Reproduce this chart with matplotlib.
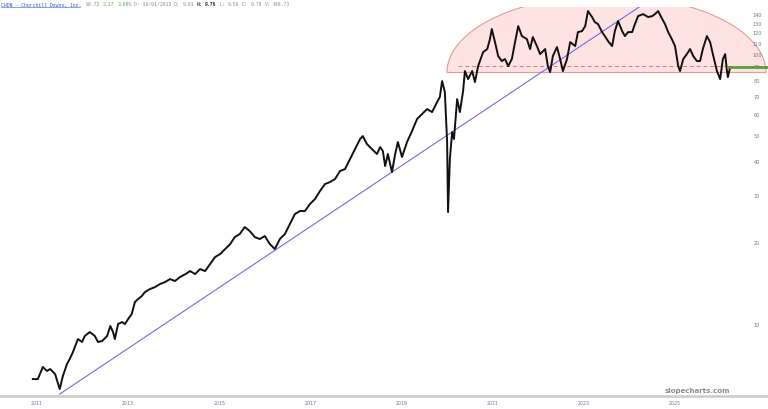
import numpy as np
import matplotlib
matplotlib.use("Agg")
from matplotlib import pyplot as plt
from matplotlib.patches import Polygon
from matplotlib.lines import Line2D
import matplotlib.transforms as mtransforms

# CHDN daily close (decimal year, price)
years = [
    2010.91, 2011.02, 2011.13, 2011.22, 2011.29, 2011.40, 2011.46, 2011.50, 2011.57, 2011.66,
    2011.72, 2011.79, 2011.90, 2011.99, 2012.05, 2012.16, 2012.27, 2012.34, 2012.43, 2012.54,
    2012.61, 2012.67, 2012.71, 2012.78, 2012.87, 2012.93, 2013.00, 2013.08, 2013.15, 2013.22,
    2013.30, 2013.37, 2013.48, 2013.59, 2013.70, 2013.81, 2013.92, 2014.03, 2014.14, 2014.26,
    2014.36, 2014.47, 2014.58, 2014.69, 2014.80, 2014.91, 2015.02, 2015.13, 2015.24, 2015.34,
    2015.45, 2015.56, 2015.67, 2015.78, 2015.89, 2016.00, 2016.11, 2016.22, 2016.33, 2016.44,
    2016.55, 2016.66, 2016.77, 2016.88, 2016.99, 2017.10, 2017.21, 2017.32, 2017.43, 2017.54,
    2017.65, 2017.76, 2017.87, 2017.98, 2018.09, 2018.15, 2018.24, 2018.35, 2018.46, 2018.53,
    2018.59, 2018.64, 2018.70, 2018.79, 2018.86, 2018.92, 2019.01, 2019.12, 2019.23, 2019.34,
    2019.45, 2019.56, 2019.67, 2019.78, 2019.84, 2019.89, 2019.95, 2020.00, 2020.02, 2020.06,
    2020.11, 2020.15, 2020.22, 2020.28, 2020.35, 2020.39, 2020.46, 2020.55, 2020.61, 2020.68,
    2020.79, 2020.88, 2020.94, 2020.98, 2021.05, 2021.12, 2021.20, 2021.27, 2021.34, 2021.42,
    2021.49, 2021.56, 2021.64, 2021.75, 2021.82, 2021.88, 2021.97, 2022.04, 2022.15, 2022.21,
    2022.26, 2022.32, 2022.41, 2022.48, 2022.54, 2022.63, 2022.70, 2022.81, 2022.87, 2022.96,
    2023.03, 2023.09, 2023.18, 2023.24, 2023.31, 2023.40, 2023.46, 2023.53, 2023.62, 2023.68,
    2023.75, 2023.84, 2023.90, 2023.97, 2024.06, 2024.12, 2024.19, 2024.30, 2024.41, 2024.50,
    2024.56, 2024.63, 2024.72, 2024.78, 2024.85, 2024.93, 2025.00, 2025.07, 2025.11, 2025.18,
    2025.26, 2025.33, 2025.40, 2025.48, 2025.55, 2025.61, 2025.70, 2025.77, 2025.83, 2025.92,
    2025.99, 2026.05, 2026.10, 2026.14, 2026.16, 2026.21,
]
close = [
    6.25, 6.25, 6.93, 6.70, 6.81, 6.52, 6.04, 5.74, 6.42, 7.11,
    7.42, 7.87, 8.80, 8.58, 9.03, 9.34, 9.03, 8.58, 8.65, 9.03,
    9.83, 9.34, 8.80, 10.00, 10.17, 10.00, 10.43, 10.89, 12.07, 12.38,
    12.70, 13.14, 13.48, 13.71, 14.07, 14.31, 14.68, 14.44, 14.94, 15.32,
    15.72, 15.32, 15.99, 15.72, 16.69, 17.72, 18.18, 18.97, 19.79, 21.01,
    21.56, 22.89, 22.12, 21.01, 20.66, 21.20, 19.79, 18.97, 20.66, 21.56,
    23.49, 25.58, 26.24, 26.24, 27.86, 29.07, 31.12, 33.04, 33.61, 34.48,
    36.92, 37.56, 40.90, 44.55, 48.52, 49.77, 46.49, 44.55, 42.69, 45.31,
    43.80, 38.53, 42.69, 36.60, 42.69, 47.29, 41.61, 47.29, 51.95, 57.55,
    60.05, 62.68, 61.09, 66.54, 69.44, 79.60, 72.46, 47.29, 26.01, 40.90,
    51.51, 48.52, 68.26, 61.09, 73.08, 86.68, 80.96, 86.68, 78.91, 90.45,
    101.9, 104.6, 113.9, 124.1, 111.0, 98.55, 94.43, 96.06, 90.45, 96.06,
    111.0, 127.3, 116.9, 113.9, 104.6, 115.9, 107.3, 100.2, 104.6, 90.45,
    85.94, 98.55, 106.4, 96.06, 86.68, 96.06, 111.0, 107.3, 120.9, 121.9,
    127.3, 144.7, 137.5, 131.7, 129.5, 120.9, 116.9, 112.0, 107.3, 121.9,
    132.9, 121.9, 116.9, 120.9, 120.9, 129.5, 138.6, 141.0, 137.5, 138.6,
    141.0, 144.7, 135.1, 129.5, 120.9, 113.9, 107.3, 90.45, 86.68, 96.06,
    100.2, 104.6, 98.55, 94.43, 94.43, 104.6, 116.9, 111.0, 100.2, 86.68,
    80.96, 96.06, 100.2, 86.68, 82.36, 89.70,
]

last_close = 89.72
dashed_level = 90.5
trend_years = [2011.50, 2024.70]
trend_prices = [5.50, 170.0]

x_ticks = [2011, 2013, 2015, 2017, 2019, 2021, 2023, 2025]
y_labels = [140, 130, 120, 110, 100, 90, 80, 70, 60, 50, 40, 30, 20, 10]

# header: (text, colour, weight), laid out left to right in a monospace font
header = [
    ("CHDN - Churchill Downs, Inc.", "#3355dd", "normal"),
    ("89.72", "#888888", "normal"),
    ("3.17", "#44aa44", "normal"),
    ("3.66%", "#44aa44", "normal"),
    ("D: 10/01/2012", "#888888", "normal"),
    ("O:", "#888888", "normal"),
    ("9.61", "#888888", "normal"),
    ("H:", "#444444", "bold"),
    ("9.76", "#222222", "bold"),
    ("L:", "#888888", "normal"),
    ("9.50", "#888888", "normal"),
    ("C:", "#888888", "normal"),
    ("9.70", "#888888", "normal"),
    ("V:", "#888888", "normal"),
    ("146.73", "#888888", "normal"),
]

W, H = 768, 410
fig = plt.figure(figsize=(W / 100, H / 100), dpi=100)
ax_top, ax_bot = 8, 397
ax = fig.add_axes([0, (H - ax_bot) / H, 1, (ax_bot - ax_top) / H])
ax.set_yscale("log")
ax.set_xlim(2010.19, 2027.04)
ax.set_ylim(5.41, 149.8)


def to_axes(px, py):
    return px / W, (ax_bot - py) / (ax_bot - ax_top)


# pink half-ellipse (drawn in screen space like the original annotation)
t = np.linspace(0, np.pi, 200)
ex, ey = to_axes(606.5 + 159.5 * np.cos(t), 73.5 - 77 * np.sin(t))
ell = Polygon(np.column_stack([ex, ey]), closed=True, transform=ax.transAxes,
              facecolor="#ffe3e3", edgecolor="#e39a9a", lw=0.8, zorder=1)
ax.add_patch(ell)

trans_x_axes = mtransforms.blended_transform_factory(ax.transAxes, ax.transData)
ax.plot([458 / W, 766 / W], [dashed_level, dashed_level], transform=trans_x_axes,
        color="#d97878", lw=0.7, ls=(0, (4, 3)), zorder=2)

ax.plot(trend_years, trend_prices, color="#6e6ee6", lw=0.8, zorder=2)
ax.plot(years, close, color="#111111", lw=1.4, zorder=3)

for v in y_labels:
    ax.text(757 / W, v, str(v), transform=trans_x_axes, ha="center", va="center",
            fontsize=3.6, color="#777777", zorder=2)

ax.plot([728 / W, 1.0], [last_close, last_close], transform=trans_x_axes,
        color="#5c9e3c", lw=2, zorder=5)

ax.set_xticks(x_ticks)
ax.set_xticklabels([str(y) for y in x_ticks], fontsize=3.4, color="#7272a8")
ax.tick_params(axis="x", length=0, pad=3)
ax.set_yticks([])
ax.yaxis.set_minor_locator(matplotlib.ticker.NullLocator())
for s in ["top", "left", "right"]:
    ax.spines[s].set_visible(False)
ax.spines["bottom"].set_color("#cfcfcf")
ax.spines["bottom"].set_linewidth(2)

ax.text(697 / W, to_axes(0, 391)[1], "slopecharts.com", transform=ax.transAxes,
        ha="center", va="center", fontsize=5, color="#8a8a8a", fontweight="bold")

# header line
fs = 3.4
char_w = 0.6 * fs * 100 / 72
col = 0
hy = 1 - 5 / H
for i, (txt, c, wt) in enumerate(header):
    fig.text((1 + col * char_w) / W, hy, txt, family="Liberation Mono", fontsize=fs,
             color=c, fontweight=wt, ha="left", va="center")
    col += len(txt) + (2 if i == 0 else 1)
fig.add_artist(Line2D([1 / W, (1 + 28 * char_w) / W], [1 - 8 / H, 1 - 8 / H],
                      color="#3355dd", lw=0.4))

fig.savefig("out.png", dpi=100)
